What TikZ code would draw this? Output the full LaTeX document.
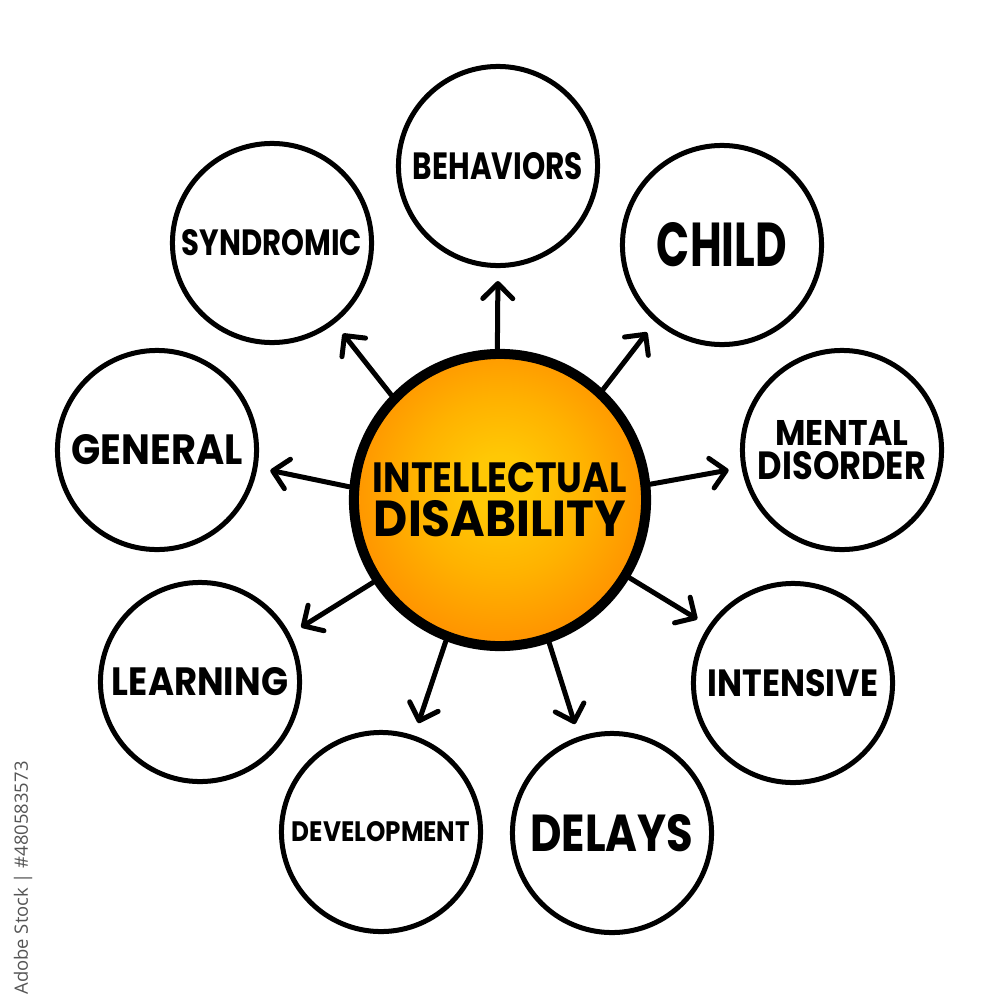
\documentclass[tikz,border=0pt]{standalone}
\usepackage{fontspec}
\setmainfont{Poppins}
\newfontfamily\wmfont{Open Sans}
\usetikzlibrary{arrows.meta}
\definecolor{ringorange}{RGB}{255,150,0}
\definecolor{midorange}{RGB}{255,178,0}
\definecolor{coreyellow}{RGB}{255,200,5}
\definecolor{wmgray}{RGB}{85,85,85}
\pgfdeclareradialshading{coreglow}{\pgfpoint{0bp}{3bp}}{color(0bp)=(coreyellow); color(5bp)=(coreyellow); color(15bp)=(midorange); color(25bp)=(ringorange); color(50bp)=(ringorange)}
\newcommand\lbl[3]{\resizebox{#1cm}{#2cm}{\bfseries #3}}
\begin{document}
\begin{tikzpicture}[x=0.01cm,y=-0.01cm,
  topic/.style={circle,draw=black,line width=0.05cm,minimum size=1.99cm,inner sep=0pt,fill=white,align=center},
  core/.style={circle,draw=black,line width=0.10cm,minimum size=2.92cm,inner sep=0pt,shading=coreglow,align=center},
  link/.style={line width=0.05cm,line cap=round,line join=round,-{Straight Barb[length=0.15cm,width=0.30cm,line width=0.05cm,round]},shorten >=0.13cm}]
\useasboundingbox (0,0) rectangle (1000,1000);
\fill[white] (0,0) rectangle (1000,1000);

\node[core,font=\fontsize{5pt}{0.44cm}\selectfont] (c) at (500,500)
  {\lbl{2.54}{0.30}{INTELLECTUAL}\\\lbl{2.52}{0.36}{DISABILITY}};

\node[topic] (beh) at (498,166) {\lbl{1.70}{0.27}{BEHAVIORS}};
\node[topic] (child) at (722,245) {\lbl{1.30}{0.44}{CHILD}};
\node[topic,font=\fontsize{5pt}{0.34cm}\selectfont] (ment) at (842,450)
  {\lbl{1.33}{0.25}{MENTAL}\\\lbl{1.68}{0.28}{DISORDER}};
\node[topic] (inte) at (793,683) {\lbl{1.70}{0.27}{INTENSIVE}};
\node[topic] (del) at (612,833) {\lbl{1.63}{0.37}{DELAYS}};
\node[topic] (dev) at (381,832) {\lbl{1.78}{0.20}{DEVELOPMENT}};
\node[topic] (lea) at (200,682) {\lbl{1.76}{0.28}{LEARNING}};
\node[topic] (gen) at (157,450) {\lbl{1.71}{0.30}{GENERAL}};
\node[topic] (syn) at (272,243) {\lbl{1.80}{0.26}{SYNDROMIC}};

\draw[link] (c.91) -- (beh.-90);
\draw[link] (c.47.6) -- (child.229.6);
\draw[link] (c.6.5) -- (ment.190.8);
\draw[link] (c.-31) -- (inte.146.3);
\draw[link] (c.-71.8) -- (del.109.4);
\draw[link] (c.-111.4) -- (dev.71.7);
\draw[link] (c.213.6) -- (lea.28.8);
\draw[link] (c.175.5) -- (gen.-10.8);
\draw[link] (c.136.9) -- (syn.-52.2);

\node[rotate=90,text=wmgray,inner sep=0pt] (wm) at (23,878)
  {\resizebox{2.33cm}{!}{\wmfont Adobe Stock | \#480583573}};
\end{tikzpicture}
\end{document}
